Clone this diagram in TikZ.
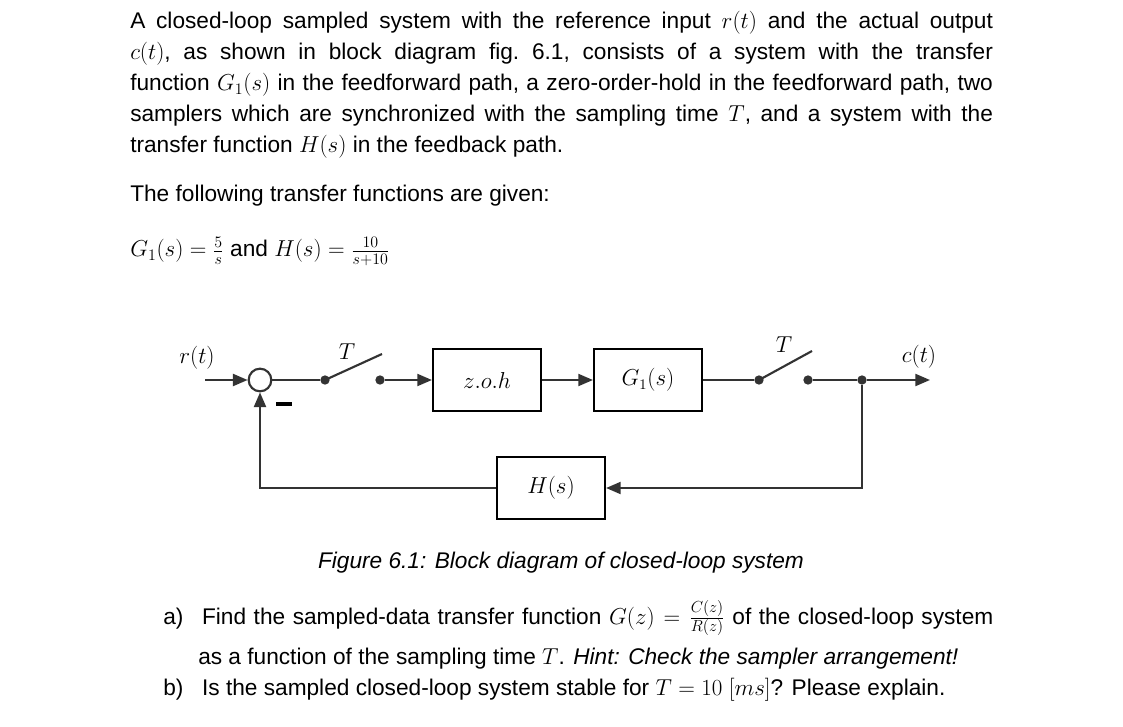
\documentclass[tikz,border=0pt]{standalone}
\usepackage{amsmath}
\usepackage{fontspec}
\setmainfont{Liberation Sans}
\usetikzlibrary{arrows.meta}
\newcommand{\nofill}{\parfillskip=0pt\relax\frenchspacing}
\begin{document}
\begin{tikzpicture}[x=0.75pt,y=-0.75pt,
  txt/.style={anchor=base west,inner sep=0pt,font=\fontsize{17}{20}\selectfont},
  jl/.style={txt,text width=647pt,align=justify,execute at begin node={\nofill}},
  blk/.style={draw,line width=1.6pt,minimum width=81pt,minimum height=47pt,inner sep=0pt,font=\fontsize{16}{18}\selectfont},
  wire/.style={line width=1.6pt,draw=black!80},
  arr/.style={wire,-{Triangle[length=11pt,width=9pt]}},
  dot/.style={circle,fill=black!80,inner sep=0pt,minimum size=7pt},
  lab/.style={font=\fontsize{16}{18}\selectfont,inner sep=0pt}]
\useasboundingbox (0,0) rectangle (1123,727);
% text
\node[jl] (l1) at (130,29) {A closed-loop sampled system with the reference input $r(t)$ and the actual output};
\node[jl] (l2) at (130,60) {$c(t)$, as shown in block diagram fig. 6.1, consists of a system with the transfer};
\node[jl] (l3) at (130,91) {function $G_1(s)$ in the feedforward path, a zero-order-hold in the feedforward path, two};
\node[jl] (l4) at (130,122) {samplers which are synchronized with the sampling time $T$, and a system with the};
\node[txt] (l5) at (130,153) {transfer function $H(s)$ in the feedback path.};
\node[txt] (l6) at (130,202) {The following transfer functions are given:};
\node[txt] (l7) at (130,257) {$G_1(s)=\frac{5}{s}$ and $H(s)=\frac{10}{s+10}$};
\node[txt,anchor=base] (cap) at (561,568) {\itshape Figure 6.1: Block diagram of closed-loop system};
\node[jl,text width=622.5pt] (qa) at (163,624) {a)\hspace{14pt}Find the sampled-data transfer function $G(z)=\frac{C(z)}{R(z)}$ of the closed-loop system};
\node[txt] (qa2) at (198,664) {as a function of the sampling time $T$. \itshape Hint: Check the sampler arrangement!};
\node[txt] (qb) at (163,695) {b)\hspace{14pt}Is the sampled closed-loop system stable for $T=10\ [ms]$? Please explain.};
% diagram
\coordinate (in) at (205,380);
\node[draw=black!80,line width=1.6pt,circle,minimum size=17pt,inner sep=0pt] (sum) at (260,380) {};
\node[dot] (s1a) at (325,380) {};
\node[dot] (s1b) at (380,380) {};
\coordinate (s1t) at (382,354);
\node[blk] (zoh) at (487,380) {$z.o.h$};
\node[blk] (g1) at (648,380) {$G_1(s)$};
\node[dot] (s2a) at (759,380) {};
\node[dot] (s2b) at (808,380) {};
\coordinate (s2t) at (812,351);
\node[dot] (br) at (862,380) {};
\coordinate (out) at (930,380);
\node[blk] (h) at (551,488) {$H(s)$};
\coordinate (c1) at (862,488);
\coordinate (c2) at (260,488);
\node[lab] (rt) at (197,358) {$r(t)$};
\node[lab] (ct) at (919,357) {$c(t)$};
\node[lab] (t1) at (347,352) {$T$};
\node[lab] (t2) at (784,345) {$T$};
\node[fill=black,minimum width=12pt,minimum height=3.5pt,inner sep=0pt] (minus) at (284,404) {};
\draw[arr] (in) -- (sum);
\draw[wire] (sum) -- (s1a);
\draw[wire] (s1a.center) -- (s1t);
\draw[arr] (s1b) -- (zoh);
\draw[arr] (zoh) -- (g1);
\draw[wire] (g1) -- (s2a);
\draw[wire] (s2a.center) -- (s2t);
\draw[wire] (s2b) -- (br);
\draw[arr] (br) -- (out);
\draw[arr] (br) -- (c1) -- (h);
\draw[arr] (h) -- (c2) -- (sum);
\end{tikzpicture}
\end{document}
